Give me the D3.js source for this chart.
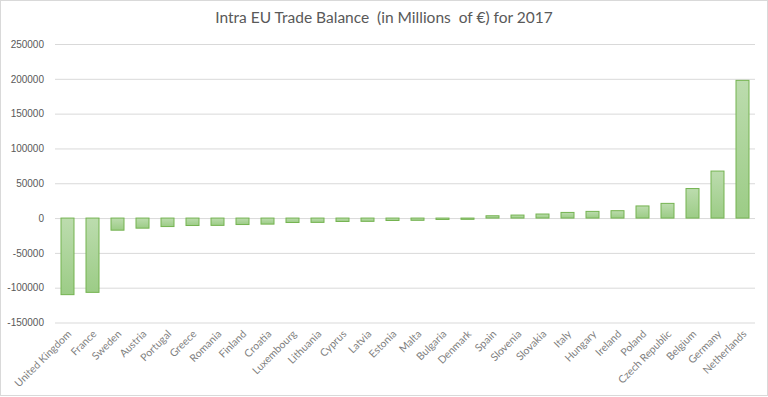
<!DOCTYPE html>
<html>
<head>
<meta charset="utf-8">
<script src="https://cdn.jsdelivr.net/npm/d3@7"></script>
<style>
  body { margin: 0; background: #fff; }
  svg { display: block; font-family: Lato, "Open Sans", sans-serif; }
</style>
</head>
<body>
<svg id="chart" width="768" height="397"></svg>
<script>
/*Data*/
var countries = ['United Kingdom', 'France', 'Sweden', 'Austria', 'Portugal', 'Greece', 'Romania',
  'Finland', 'Croatia', 'Luxembourg', 'Lithuania', 'Cyprus', 'Latvia', 'Estonia', 'Malta',
  'Bulgaria', 'Denmark', 'Spain', 'Slovenia', 'Slovakia', 'Italy', 'Hungary', 'Ireland',
  'Poland', 'Czech Republic', 'Belgium', 'Germany', 'Netherlands'];
var balance = [-110000, -106700, -17400, -14500, -12200, -10700, -10500,
  -9300, -8700, -6400, -6200, -4900, -4700, -3500, -3200,
  -2000, -1800, 3300, 4300, 5800, 8100, 9600, 10600,
  17400, 21100, 42400, 67500, 197800];
var yTicks = [-150000, -100000, -50000, 0, 50000, 100000, 150000, 200000, 250000];

var data = countries.map(function(c, i) { return {name: c, value: balance[i]}; });

var svg = d3.select('#chart'),
    margin = {top: 44, right: 13, bottom: 76, left: 55},
    width = +svg.attr('width') - margin.left - margin.right,
    height = +svg.attr('height') - margin.top - margin.bottom;

/*Border*/
svg.append('rect')
    .attr('x', 0.5).attr('y', 0.5)
    .attr('width', 767).attr('height', 395)
    .attr('fill', '#fff')
    .attr('stroke', '#d9d9d9');

/*Title*/
svg.append('text')
    .attr('x', 384)
    .attr('y', 23)
    .attr('text-anchor', 'middle')
    .attr('fill', '#595959')
    .style('font-size', '15.5px')
    .style('white-space', 'pre')
    .text('Intra EU Trade Balance  (in Millions  of €) for 2017');

var x = d3.scaleBand().domain(countries).range([0, width]).paddingInner(0.48).paddingOuter(0.24),
    y = d3.scaleLinear().domain([-150000, 250000]).range([height + 1.5, 0]);

var g = svg.append('g')
    .attr('transform', 'translate(' + margin.left + ',' + margin.top + ')');

var defs = svg.append('defs');
var grad = defs.append('linearGradient')
    .attr('id', 'barGrad')
    .attr('x1', 0).attr('y1', 0).attr('x2', 0).attr('y2', 1);
grad.append('stop').attr('offset', '0%').attr('stop-color', '#bcdcae');
grad.append('stop').attr('offset', '100%').attr('stop-color', '#9ccc86');

/*Grid*/
g.append('g')
    .attr('class', 'grid')
    .call(d3.axisLeft(y).tickValues(yTicks).tickSize(-width).tickFormat(function(d) { return d; }))
    .call(function(a) {
      a.select('.domain').remove();
      a.selectAll('.tick line').attr('stroke', '#d9d9d9');
      a.selectAll('.tick text')
        .attr('x', -11)
        .attr('fill', '#595959')
        .style('font-size', '10px');
    });

/*Bars*/
g.selectAll('.bar')
  .data(data)
  .enter().append('rect')
    .attr('class', 'bar')
    .attr('x', function(d) { return x(d.name); })
    .attr('y', function(d) { return y(Math.max(0, d.value)); })
    .attr('width', x.bandwidth())
    .attr('height', function(d) { return Math.abs(y(d.value) - y(0)); })
    .attr('fill', 'url(#barGrad)')
    .attr('stroke', '#74b350')
    .attr('stroke-width', 1);

/*Category labels*/
g.selectAll('.cat')
  .data(data)
  .enter().append('text')
    .attr('class', 'cat')
    .attr('transform', function(d) {
      return 'translate(' + (x(d.name) + x.bandwidth() / 2 + 2) + ',' + (height + 11) + ') rotate(-45)';
    })
    .attr('text-anchor', 'end')
    .attr('dy', '0.35em')
    .attr('fill', '#7f7f7f')
    .style('font-size', '10.5px')
    .text(function(d) { return d.name; });
</script>
</body>
</html>
